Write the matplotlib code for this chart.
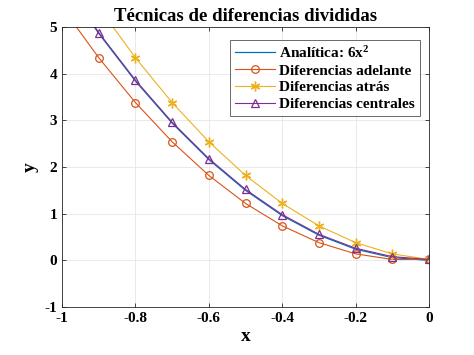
import matplotlib.pyplot as plt
import numpy as np

plt.rc('font', family='Liberation Serif', weight='bold', size=11)
plt.rc('mathtext', fontset='custom', rm='Liberation Serif:bold', it='Liberation Serif:bold', bf='Liberation Serif:bold')

x = [-1.0, -0.9, -0.8, -0.7, -0.6, -0.5, -0.4, -0.3, -0.2, -0.1, 0.0]
analitica = [6.0, 4.86, 3.84, 2.94, 2.16, 1.5, 0.96, 0.54, 0.24, 0.06, 0.0]
adelante = [5.42, 4.34, 3.38, 2.54, 1.82, 1.22, 0.74, 0.38, 0.14, 0.02, 0.02]
atras = [6.62, 5.42, 4.34, 3.38, 2.54, 1.82, 1.22, 0.74, 0.38, 0.14, 0.02]
centrales = [6.02, 4.88, 3.86, 2.96, 2.18, 1.52, 0.98, 0.56, 0.26, 0.08, 0.02]

c_blue = (0, 0.447, 0.741)
c_orange = (0.85, 0.325, 0.098)
c_yellow = (0.929, 0.694, 0.125)
c_purple = (0.494, 0.184, 0.556)

fig, ax = plt.subplots(figsize=[4.74, 3.55], dpi=100)
plt.subplots_adjust(left=0.131, right=0.905, top=0.924, bottom=0.135)

ax.plot(x, analitica, '-', color=c_blue, lw=0.9, label=r'Analítica: 6x$^2$')
ax.plot(x, adelante, '-o', color=c_orange, lw=0.8, ms=5.5, mew=0.9, mfc='none', label='Diferencias adelante')
ax.plot(x, atras, '-', marker=(6, 2, 0), color=c_yellow, lw=0.8, ms=7, mew=1.0, label='Diferencias atrás')
ax.plot(x, centrales, '-^', color=c_purple, lw=0.8, ms=5.5, mew=0.9, mfc='none', label='Diferencias centrales')

ax.set_xlim(-1, 0)
ax.set_ylim(-1, 5)
ax.set_xticks([-1, -0.8, -0.6, -0.4, -0.2, 0])
ax.set_xticklabels(['-1', '-0.8', '-0.6', '-0.4', '-0.2', '0'])
ax.set_yticks([-1, 0, 1, 2, 3, 4, 5])
ax.set_yticklabels(['-1', '0', '1', '2', '3', '4', '5'])
ax.grid(True, color='#e6e6e6', lw=0.6)
ax.set_axisbelow(True)
for s in ax.spines.values():
    s.set_color('#262626')
    s.set_linewidth(0.6)
ax.tick_params(direction='in', length=3, width=0.6, colors='#262626', labelcolor='black', top=True, right=True)

ax.set_title('Técnicas de diferencias divididas', fontsize=13.5, fontweight='bold', pad=4)
ax.set_xlabel('x', fontsize=14, fontweight='bold', labelpad=2)
ax.set_ylabel('y', fontsize=14, fontweight='bold', labelpad=4)

leg = ax.legend(loc='upper right', prop={'size': 11, 'weight': 'bold'}, frameon=True, fancybox=False,
                edgecolor='#262626', borderpad=0.35, labelspacing=0.2, handlelength=2.6,
                handletextpad=0.25, borderaxespad=0.0, bbox_to_anchor=(0.975, 0.955))
leg.get_frame().set_linewidth(0.6)

plt.savefig('out.png')
